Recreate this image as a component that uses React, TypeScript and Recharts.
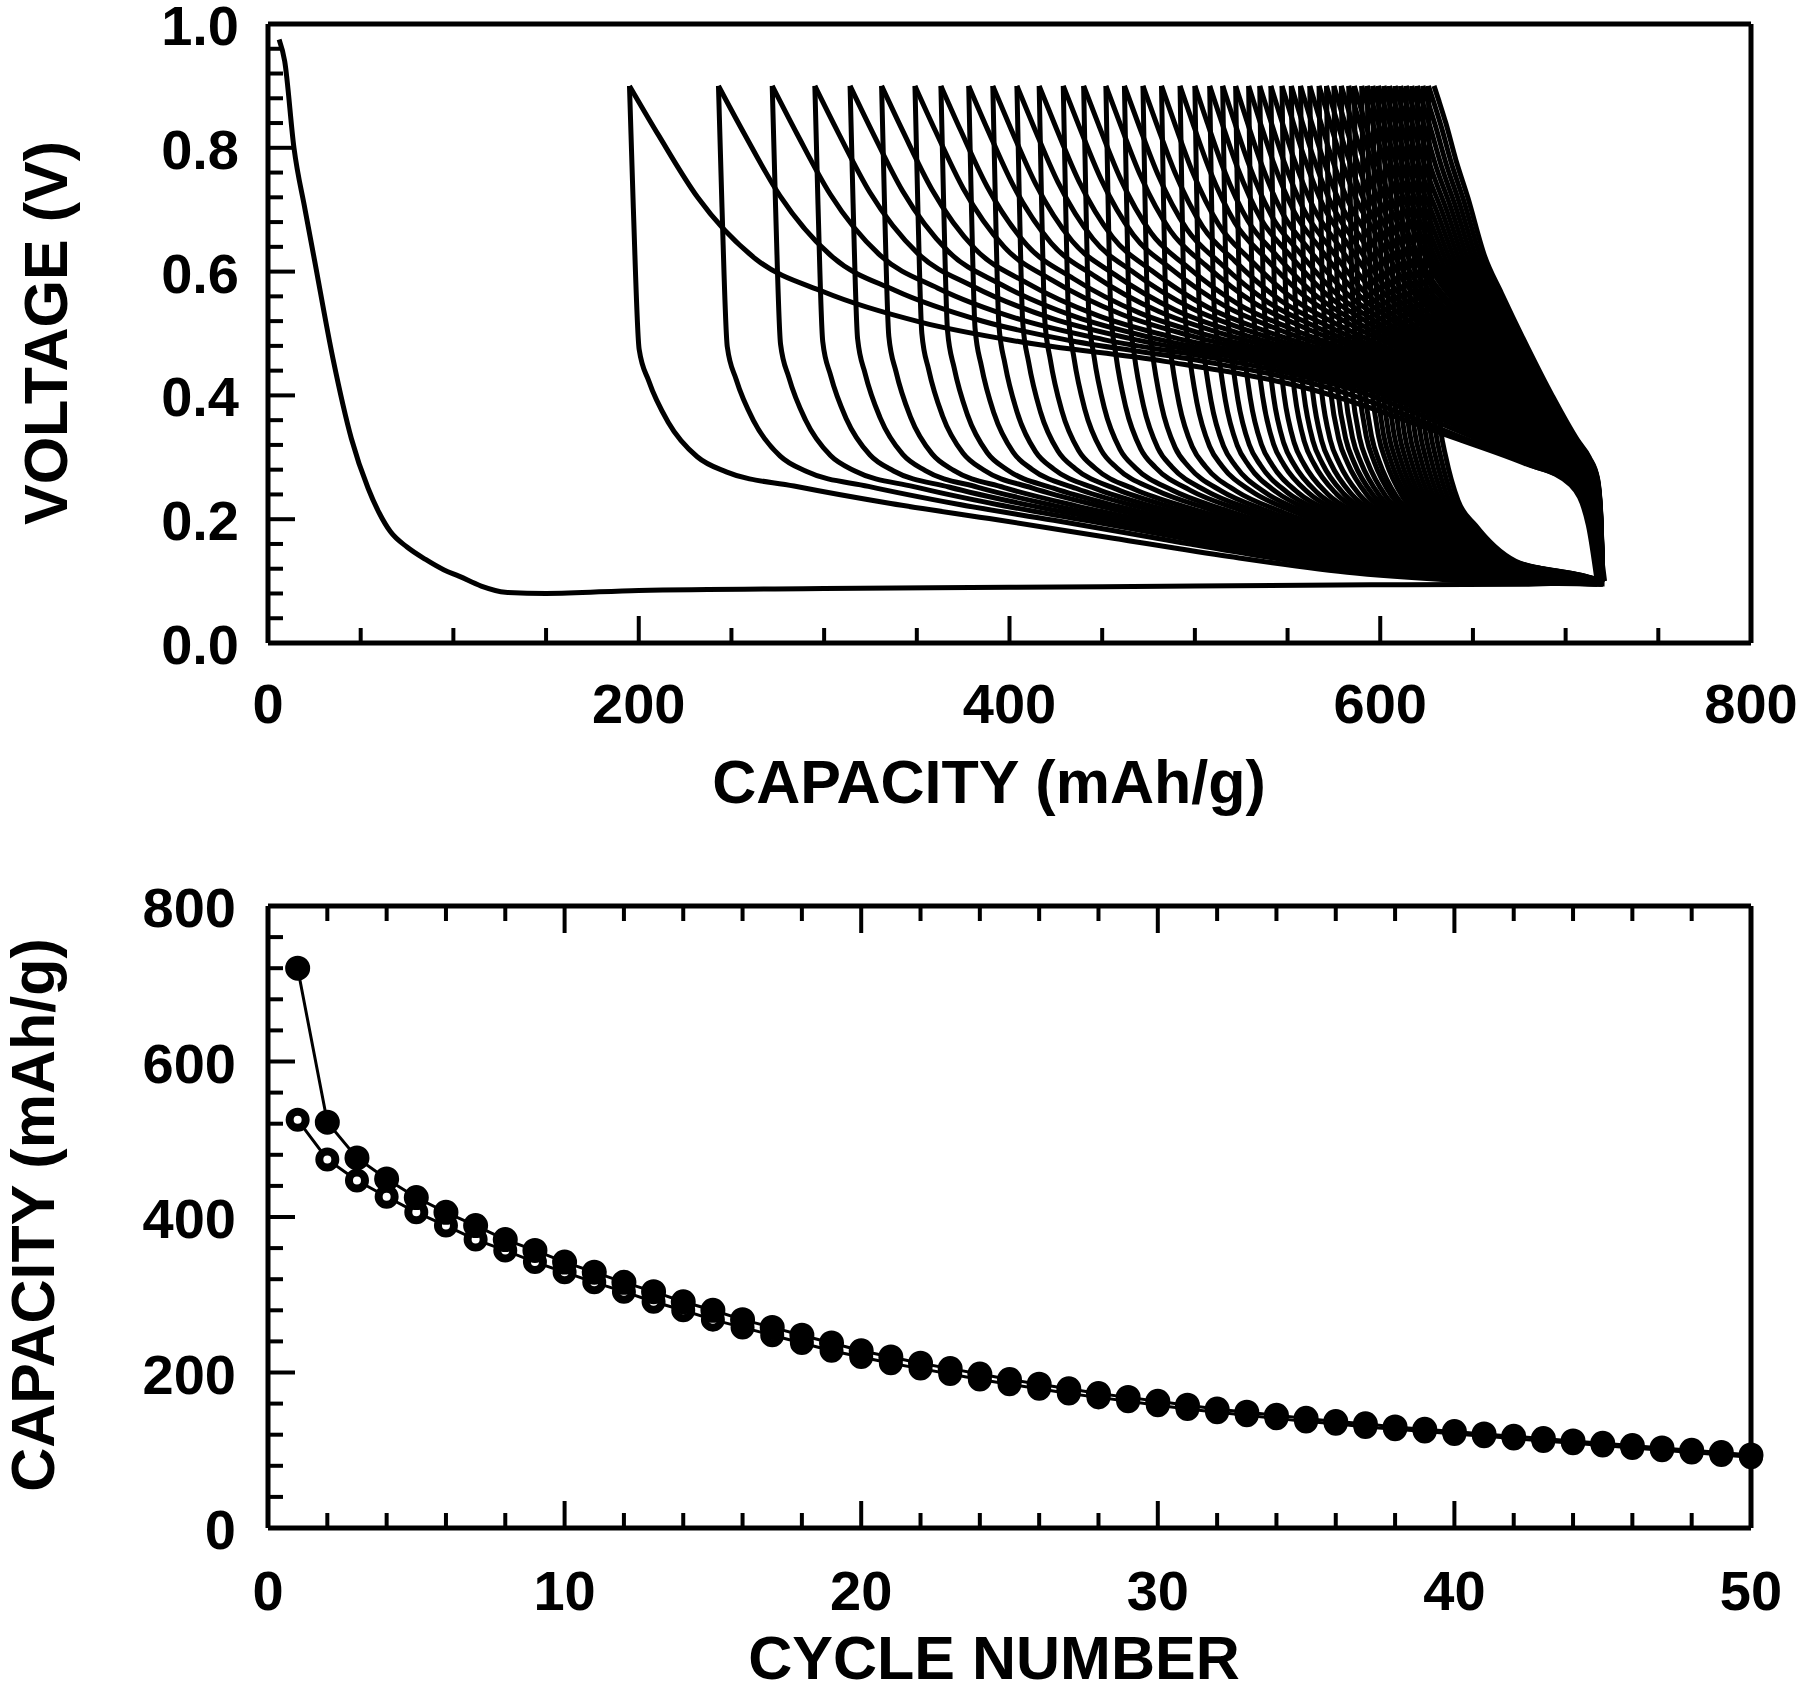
import React from "react";
import { LineChart, Line, XAxis, YAxis } from "recharts";

// Capacity per cycle (mAh/g), cycles 1..50
const DISCHARGE_CAPACITY = [
  720, 522, 476, 449, 425, 406, 389, 371, 357, 342,
  329, 316, 304, 291, 280, 268, 258, 248, 238, 228,
  220, 212, 205, 198, 191, 185, 179, 173, 168, 163,
  158, 153, 149, 145, 141, 137, 134, 130, 127, 124,
  121, 118, 115, 112, 109, 106, 103, 100, 97, 94,
];
const CHARGE_CAPACITY = [
  525, 474, 447, 426, 406, 389, 371, 357, 342, 329,
  316, 304, 291, 280, 268, 258, 248, 238, 228, 220,
  212, 205, 198, 191, 185, 179, 173, 168, 163, 158,
  153, 149, 145, 141, 137, 134, 130, 127, 124, 121,
  118, 115, 112, 109, 106, 103, 100, 97, 94, 91,
];
const CYCLES = DISCHARGE_CAPACITY.map((_, i) => i + 1);

// First discharge profile (capacity, voltage)
const FIRST_DISCHARGE_X = [6, 9, 14, 20, 25, 35, 45, 54, 60, 66, 75, 85, 95, 103, 115, 128, 150, 200, 300, 400, 500, 600, 680, 720];
const FIRST_DISCHARGE_V = [0.975, 0.94, 0.8, 0.7, 0.62, 0.46, 0.33, 0.25, 0.21, 0.18, 0.155, 0.135, 0.118, 0.108, 0.092, 0.082, 0.08, 0.085, 0.088, 0.09, 0.092, 0.094, 0.095, 0.1];

// Discharge profile shape: fraction of the cycle's capacity -> voltage (early / late cycles)
const DIS_FRAC = [0, 0.004, 0.01, 0.02, 0.04, 0.07, 0.1, 0.17, 0.27, 0.38, 0.5, 0.62, 0.75, 0.87, 1];
const DIS_V_EARLY = [0.9, 0.7, 0.47, 0.42, 0.355, 0.3, 0.276, 0.254, 0.226, 0.2, 0.17, 0.14, 0.113, 0.1, 0.095];
const DIS_V_LATE = [0.9, 0.8, 0.68, 0.57, 0.44, 0.345, 0.3, 0.23, 0.19, 0.156, 0.132, 0.122, 0.116, 0.11, 0.1];

// Charge profile shape, measured back from the end of discharge
const CH_FRAC = [0, 0.01, 0.03, 0.08, 0.15, 0.3, 0.45, 0.6, 0.7, 0.8, 0.87, 0.93, 0.97, 1];
const CH_V_EARLY = [0.1, 0.19, 0.255, 0.29, 0.33, 0.41, 0.455, 0.487, 0.518, 0.567, 0.62, 0.72, 0.82, 0.9];
const CH_V_LATE = [0.1, 0.2, 0.265, 0.3, 0.328, 0.4, 0.48, 0.565, 0.625, 0.72, 0.78, 0.84, 0.875, 0.9];

// Axis ticks
const VOLT_MAJOR = [0, 0.2, 0.4, 0.6, 0.8, 1.0];
const CAP_X_MAJOR = [0, 200, 400, 600, 800];
const CYCLE_MAJOR = [0, 10, 20, 30, 40, 50];
const CAP_Y_MAJOR = [0, 200, 400, 600, 800];

const FONT = '"Liberation Sans", Arial, Helvetica, sans-serif';
const INK = "#000";

type Pt = { x: number; v: number };

const mix = (a: number, b: number, w: number) => a + (b - a) * w;

function buildProfiles() {
  const out: { id: string; points: Pt[] }[] = [];
  const last = DISCHARGE_CAPACITY.length - 1;
  let start = 0;
  DISCHARGE_CAPACITY.forEach((dis, i) => {
    const w = i / last;
    const end = start + dis;
    const down: Pt[] =
      i === 0
        ? FIRST_DISCHARGE_X.map((x, k) => ({ x, v: FIRST_DISCHARGE_V[k] }))
        : DIS_FRAC.map((f, k) => ({ x: start + f * dis, v: mix(DIS_V_EARLY[k], DIS_V_LATE[k], w) }));
    const ch = CHARGE_CAPACITY[i];
    const up: Pt[] = CH_FRAC.map((f, k) => ({ x: end - f * ch, v: mix(CH_V_EARLY[k], CH_V_LATE[k], w) }));
    out.push({ id: `d${i + 1}`, points: down }, { id: `c${i + 1}`, points: up });
    start = end - ch;
  });
  return out;
}

function withMinor(major: number[], step: number) {
  const max = major[major.length - 1];
  const n = Math.round(max / step);
  const out: number[] = [];
  for (let i = 0; i <= n; i++) out.push(+(i * step).toFixed(6));
  return out;
}

type Side = "bottom" | "top" | "left" | "right";

// inward tick marks on all four sides, labels only on bottom/left majors
function frameTick(side: Side, majors: number[], fmt: (v: number) => string, labelGap: number) {
  return (props: any) => {
    const { x, y, payload } = props;
    const v = payload.value as number;
    const isMajor = majors.some((m) => Math.abs(m - v) < 1e-6);
    const len = isMajor ? 27 : 15;
    let x2 = x;
    let y2 = y;
    if (side === "bottom") y2 = y - len;
    if (side === "top") y2 = y + len;
    if (side === "left") x2 = x + len;
    if (side === "right") x2 = x - len;
    return (
      <g>
        <line x1={x} y1={y} x2={x2} y2={y2} stroke={INK} strokeWidth={4} />
        {isMajor && side === "bottom" && (
          <text x={x} y={y + labelGap} textAnchor="middle" fontFamily={FONT} fontWeight={700} fontSize={56} fill={INK}>
            {fmt(v)}
          </text>
        )}
        {isMajor && side === "left" && (
          <text x={x - labelGap} y={y + 21} textAnchor="end" fontFamily={FONT} fontWeight={700} fontSize={56} fill={INK}>
            {fmt(v)}
          </text>
        )}
      </g>
    );
  };
}

const axisLine = { stroke: INK, strokeWidth: 5 };
const none = () => "";

const titleStyle: React.CSSProperties = {
  position: "absolute",
  fontFamily: FONT,
  fontWeight: 700,
  fontSize: 61,
  lineHeight: 1,
  whiteSpace: "nowrap",
  color: INK,
};

const VoltageProfiles: React.FC = () => {
  const curves = buildProfiles();
  const xTicks = withMinor(CAP_X_MAJOR, 50);
  const yTicks = withMinor(VOLT_MAJOR, 0.04);
  return (
    <LineChart width={1800} height={860} margin={{ top: 0, right: 0, bottom: 0, left: 0 }}>
      <XAxis
        dataKey="x"
        type="number"
        domain={[0, 800]}
        ticks={xTicks}
        interval={0}
        tickSize={0}
        tickMargin={0}
        tickLine={false}
        axisLine={axisLine}
        height={217}
        tick={frameTick("bottom", CAP_X_MAJOR, (v) => String(v), 80)}
      />
      <XAxis
        xAxisId="top"
        orientation="top"
        dataKey="x"
        type="number"
        domain={[0, 800]}
        ticks={xTicks}
        interval={0}
        tickSize={0}
        tickMargin={0}
        tickLine={false}
        axisLine={axisLine}
        height={24}
        tick={frameTick("top", CAP_X_MAJOR, none, 0)}
      />
      <YAxis
        type="number"
        domain={[0, 1]}
        ticks={yTicks}
        interval={0}
        tickSize={0}
        tickMargin={0}
        tickLine={false}
        axisLine={axisLine}
        width={268}
        tick={frameTick("left", VOLT_MAJOR, (v) => v.toFixed(1), 29)}
      />
      <YAxis
        yAxisId="right"
        orientation="right"
        type="number"
        domain={[0, 1]}
        ticks={yTicks}
        interval={0}
        tickSize={0}
        tickMargin={0}
        tickLine={false}
        axisLine={axisLine}
        width={49}
        tick={frameTick("right", VOLT_MAJOR, none, 0)}
      />
      {curves.map((c) => (
        <Line
          key={c.id}
          name={c.id}
          data={c.points}
          dataKey="v"
          type="monotone"
          stroke={INK}
          strokeWidth={5}
          dot={false}
          activeDot={false}
          isAnimationActive={false}
        />
      ))}
    </LineChart>
  );
};

const CycleLife: React.FC = () => {
  const rows = CYCLES.map((cycle, i) => ({
    cycle,
    discharge: DISCHARGE_CAPACITY[i],
    charge: CHARGE_CAPACITY[i],
  }));
  const xTicks = withMinor(CYCLE_MAJOR, 2);
  const yTicks = withMinor(CAP_Y_MAJOR, 40);
  return (
    <LineChart width={1800} height={833} data={rows} margin={{ top: 0, right: 0, bottom: 0, left: 0 }}>
      <XAxis
        dataKey="cycle"
        type="number"
        domain={[0, 50]}
        ticks={xTicks}
        interval={0}
        tickSize={0}
        tickMargin={0}
        tickLine={false}
        axisLine={axisLine}
        height={165}
        tick={frameTick("bottom", CYCLE_MAJOR, (v) => String(v), 82)}
      />
      <XAxis
        xAxisId="top"
        orientation="top"
        dataKey="cycle"
        type="number"
        domain={[0, 50]}
        ticks={xTicks}
        interval={0}
        tickSize={0}
        tickMargin={0}
        tickLine={false}
        axisLine={axisLine}
        height={46}
        tick={frameTick("top", CYCLE_MAJOR, none, 0)}
      />
      <YAxis
        type="number"
        domain={[0, 800]}
        ticks={yTicks}
        interval={0}
        tickSize={0}
        tickMargin={0}
        tickLine={false}
        axisLine={axisLine}
        width={268}
        tick={frameTick("left", CAP_Y_MAJOR, (v) => String(v), 32)}
      />
      <YAxis
        yAxisId="right"
        orientation="right"
        type="number"
        domain={[0, 800]}
        ticks={yTicks}
        interval={0}
        tickSize={0}
        tickMargin={0}
        tickLine={false}
        axisLine={axisLine}
        width={49}
        tick={frameTick("right", CAP_Y_MAJOR, none, 0)}
      />
      <Line
        dataKey="charge"
        name="Charge"
        stroke={INK}
        strokeWidth={3}
        dot={{ r: 8, fill: "#fff", stroke: INK, strokeWidth: 8 }}
        activeDot={false}
        isAnimationActive={false}
      />
      <Line
        dataKey="discharge"
        name="Discharge"
        stroke={INK}
        strokeWidth={3}
        dot={{ r: 11.5, fill: INK, stroke: INK, strokeWidth: 2 }}
        activeDot={false}
        isAnimationActive={false}
      />
    </LineChart>
  );
};

export default function App() {
  return (
    <div
      style={{
        position: "absolute",
        left: 0,
        top: 0,
        width: 1800,
        height: 1693,
        background: "#fff",
        overflow: "hidden",
      }}
    >
      <div style={{ position: "absolute", left: 0, top: 0 }}>
        <VoltageProfiles />
      </div>
      <div style={{ position: "absolute", left: 0, top: 860 }}>
        <CycleLife />
      </div>
      <div style={{ ...titleStyle, left: 46, top: 333, transform: "translate(-50%, -50%) rotate(-90deg)" }}>
        VOLTAGE (V)
      </div>
      <div style={{ ...titleStyle, left: 989, top: 782, transform: "translate(-50%, -50%)" }}>
        CAPACITY (mAh/g)
      </div>
      <div style={{ ...titleStyle, left: 33, top: 1215, transform: "translate(-50%, -50%) rotate(-90deg)" }}>
        CAPACITY (mAh/g)
      </div>
      <div style={{ ...titleStyle, left: 994, top: 1658, transform: "translate(-50%, -50%)" }}>
        CYCLE NUMBER
      </div>
    </div>
  );
}
